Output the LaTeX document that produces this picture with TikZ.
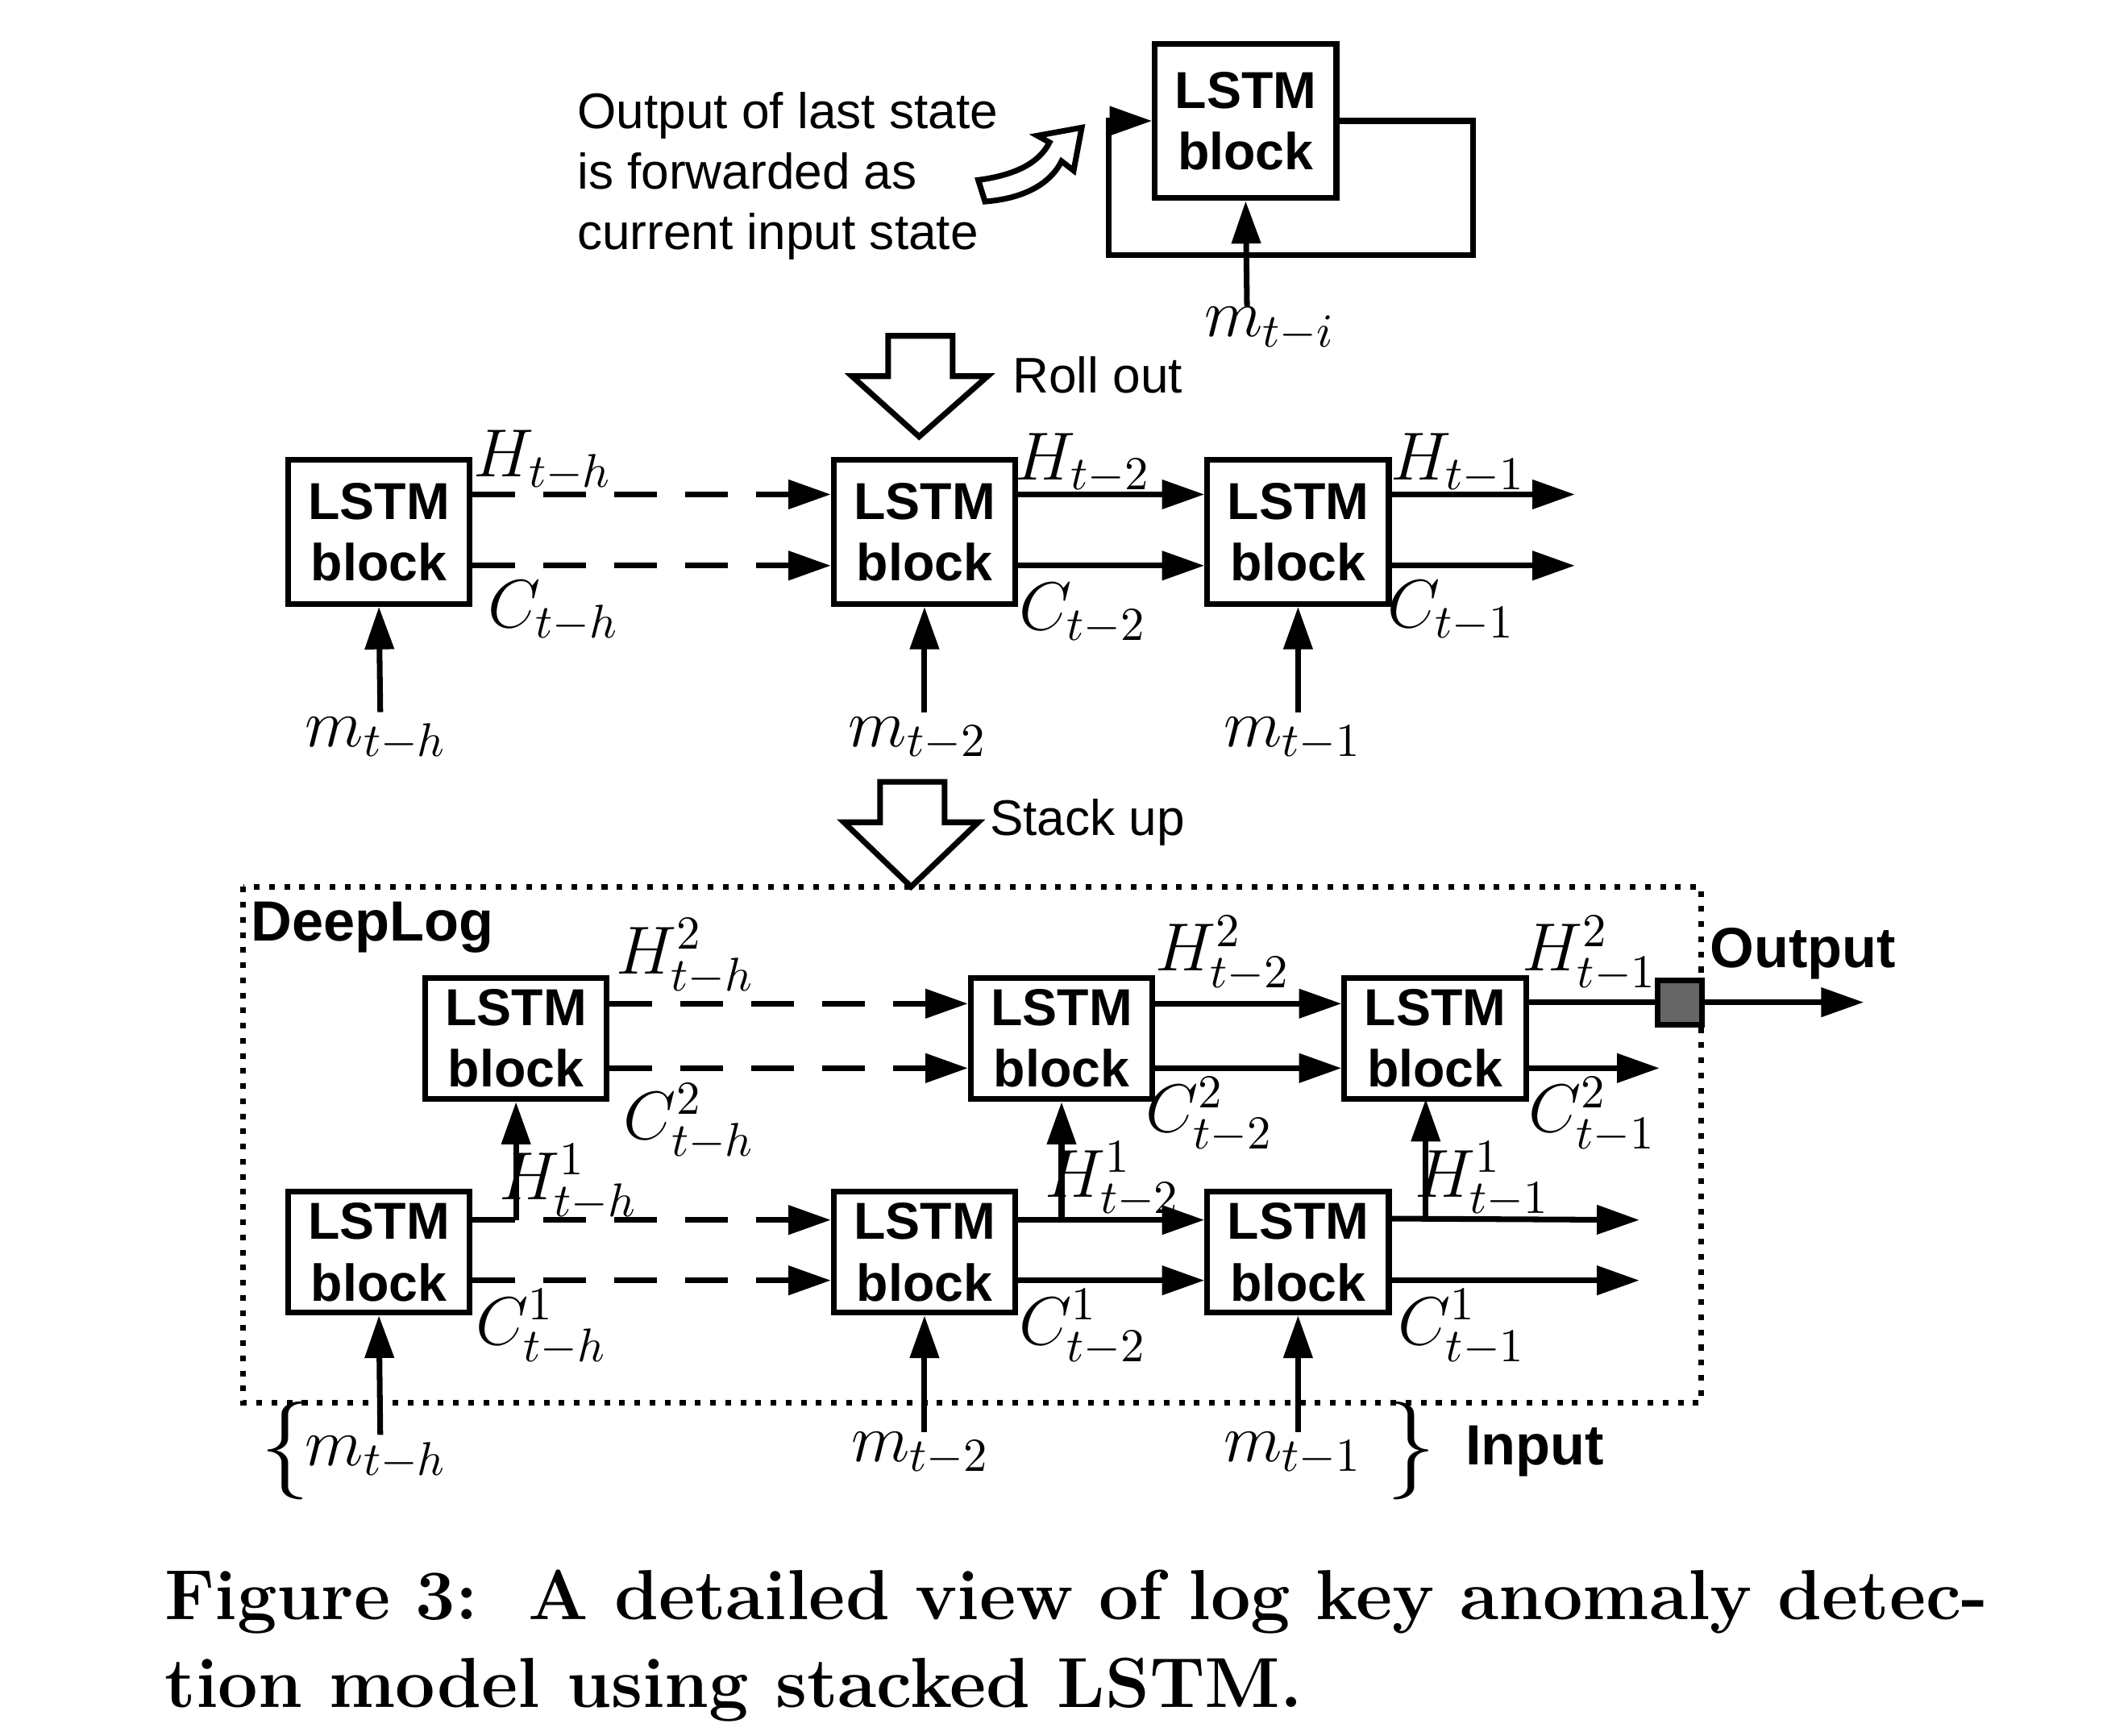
\documentclass[tikz,border=0pt]{standalone}
\usepackage{fontspec}
\setmainfont{Liberation Sans}
\newfontfamily\capfont{Latin Modern Roman}
\usetikzlibrary{arrows.meta,decorations.pathreplacing}
\tikzset{
  lstm/.style={draw, line width=1.2pt, minimum width=1.35cm, minimum height=1.0cm,
    align=center, font=\fontsize{11}{13}\selectfont\bfseries, inner sep=0pt},
  lstmb/.style={lstm, minimum height=0.9cm},
  con/.style={line width=1.2pt, -{Triangle[length=9pt,width=6pt]}},
  dcon/.style={con, dash pattern=on 9pt off 6pt},
  lab/.style={font=\fontsize{14}{16}\selectfont, inner sep=0pt},
  txt/.style={font=\fontsize{10.6}{12.8}\selectfont, inner sep=0pt},
  hollow/.style={draw, line width=1.2pt, fill=white}
}
\begin{document}
\begin{tikzpicture}[x=0.01cm,y=-0.01cm]
\useasboundingbox (0,0) rectangle (1568,1292);
% rolled-up block
\node[lstm, minimum height=1.15cm] (top) at (927,90) {LSTM\\block};
\coordinate (tr1) at (1096,90); \coordinate (tr2) at (1096,190);
\coordinate (tl1) at (825,190); \coordinate (tl2) at (825,90);
\draw[con] (top.east) -- (tr1) -- (tr2) -- (tl1) -- (tl2) -- (top.west);
\node[lab] (mti) at (945,245) {$m_{t-i}$};
\draw[con] (928,228) -- (top.south);
\node[txt, align=left, anchor=west] (note) at (429,131) {Output of last state\\is forwarded as\\current input state};
\draw[hollow] (728,134) .. controls (758,130) and (774,120) .. (781,106) -- (772,101) -- (805,95) -- (799,127) -- (790,120)
  .. controls (781,138) and (760,148) .. (733,150) -- cycle;
% roll out arrow
\draw[hollow] (661,250) -- (709,250) -- (709,280) -- (735,280) -- (684,325) -- (634,280) -- (661,280) -- cycle;
\node[txt, anchor=west] (roll) at (753,279) {Roll out};
% unrolled row
\node[lstm, minimum height=1.07cm] (a) at (282,396) {LSTM\\block};
\node[lstm, minimum height=1.07cm] (b) at (688,396) {LSTM\\block};
\node[lstm, minimum height=1.07cm] (c) at (966,396) {LSTM\\block};
\coordinate (ch) at (1172,368); \coordinate (cc) at (1172,421);
\draw[dcon] (a.east |- 0,368) -- (b.west |- 0,368);
\draw[dcon] (a.east |- 0,421) -- (b.west |- 0,421);
\draw[con] (b.east |- 0,368) -- (c.west |- 0,368);
\draw[con] (b.east |- 0,421) -- (c.west |- 0,421);
\draw[con] (c.east |- 0,368) -- (ch);
\draw[con] (c.east |- 0,421) -- (cc);
\node[lab] at (404,343) {$H_{t-h}$}; \node[lab] at (412,455) {$C_{t-h}$};
\node[lab] at (806,345) {$H_{t-2}$}; \node[lab] at (806,457) {$C_{t-2}$};
\node[lab] at (1085,345) {$H_{t-1}$}; \node[lab] at (1080,455) {$C_{t-1}$};
\node[lab] (ma) at (280,550) {$m_{t-h}$};
\node[lab] (mb) at (683,550) {$m_{t-2}$};
\node[lab] (mc) at (962,550) {$m_{t-1}$};
\draw[con] (283,530) -- (a.south);
\draw[con] (688,530) -- (b.south);
\draw[con] (966,530) -- (c.south);
% stack up arrow
\draw[hollow] (655,582) -- (703,582) -- (703,612) -- (728,612) -- (678,660) -- (628,612) -- (655,612) -- cycle;
\node[txt, anchor=west] (stack) at (736,612) {Stack up};
% DeepLog frame
\draw[line width=1.2pt, dotted] (181,660) rectangle (1266,1044);
\node[txt, font=\fontsize{12}{14}\selectfont\bfseries, anchor=west] (deeplog) at (186,690) {DeepLog};
% stacked rows
\node[lstmb] (a2) at (384,773) {LSTM\\block};
\node[lstmb] (b2) at (790,773) {LSTM\\block};
\node[lstmb] (c2) at (1068,773) {LSTM\\block};
\node[lstmb] (a1) at (282,932) {LSTM\\block};
\node[lstmb] (b1) at (688,932) {LSTM\\block};
\node[lstmb] (c1) at (966,932) {LSTM\\block};
\node[draw, line width=1.2pt, fill=black!60, minimum size=0.33cm, inner sep=0pt] (sq) at (1250,746) {};
\coordinate (out) at (1387,746);
\coordinate (c2c) at (1235,795);
\coordinate (c1h) at (1220,908); \coordinate (c1c) at (1220,953);
\draw[dcon] (a2.east |- 0,747) -- (b2.west |- 0,747);
\draw[dcon] (a2.east |- 0,795) -- (b2.west |- 0,795);
\draw[con] (b2.east |- 0,747) -- (c2.west |- 0,747);
\draw[con] (b2.east |- 0,795) -- (c2.west |- 0,795);
\draw[line width=1.2pt] (c2.east |- 0,746) -- (sq.west);
\draw[con] (sq.east) -- (out);
\draw[con] (c2.east |- 0,795) -- (c2c);
\draw[dcon] (a1.east |- 0,908) -- (b1.west |- 0,908);
\draw[dcon] (a1.east |- 0,953) -- (b1.west |- 0,953);
\draw[con] (b1.east |- 0,908) -- (c1.west |- 0,908);
\draw[con] (b1.east |- 0,953) -- (c1.west |- 0,953);
\draw[con] (c1.east |- 0,907) -- (c1h);
\draw[con] (c1.east |- 0,953) -- (c1c);
\draw[con] (384,908) -- (a2.south);
\draw[con] (790,908) -- (b2.south);
\draw[con] (1061,908) -- (1061,818);
\node[txt, font=\fontsize{12}{14}\selectfont\bfseries, anchor=west] (output) at (1272,710) {Output};
\node[lab] at (510,712) {$H^2_{t-h}$}; \node[lab] at (513,835) {$C^2_{t-h}$};
\node[lab] at (910,710) {$H^2_{t-2}$}; \node[lab] at (900,830) {$C^2_{t-2}$};
\node[lab] at (1183,710) {$H^2_{t-1}$}; \node[lab] at (1185,830) {$C^2_{t-1}$};
\node[lab] at (423,880) {$H^1_{t-h}$}; \node[lab] at (403,988) {$C^1_{t-h}$};
\node[lab] at (828,878) {$H^1_{t-2}$}; \node[lab] at (806,988) {$C^1_{t-2}$};
\node[lab] at (1103,878) {$H^1_{t-1}$}; \node[lab] at (1088,988) {$C^1_{t-1}$};
% inputs
\node[lab] (ia) at (280,1085) {$m_{t-h}$};
\node[lab] (ib) at (685,1082) {$m_{t-2}$};
\node[lab] (ic) at (962,1082) {$m_{t-1}$};
\draw[con] (283,1068) -- (a1.south);
\draw[con] (688,1066) -- (b1.south);
\draw[con] (966,1066) -- (c1.south);
\node[lab, font=\fontsize{22}{22}\selectfont] at (212,1080) {$\{$};
\node[lab, font=\fontsize{22}{22}\selectfont] at (1050,1080) {$\}$};
\node[txt, font=\fontsize{12}{14}\selectfont\bfseries, anchor=west] (input) at (1090,1080) {Input};
% caption
\node[anchor=north west, text width=13.56cm, align=justify, inner sep=0pt,
  font=\capfont\fontsize{15}{18.5}\selectfont\bfseries] (cap) at (122,1168)
  {\hyphenpenalty=10000 Figure 3:\ \ A detailed view of log key anomaly detection model using stacked LSTM.};
\end{tikzpicture}
\end{document}
